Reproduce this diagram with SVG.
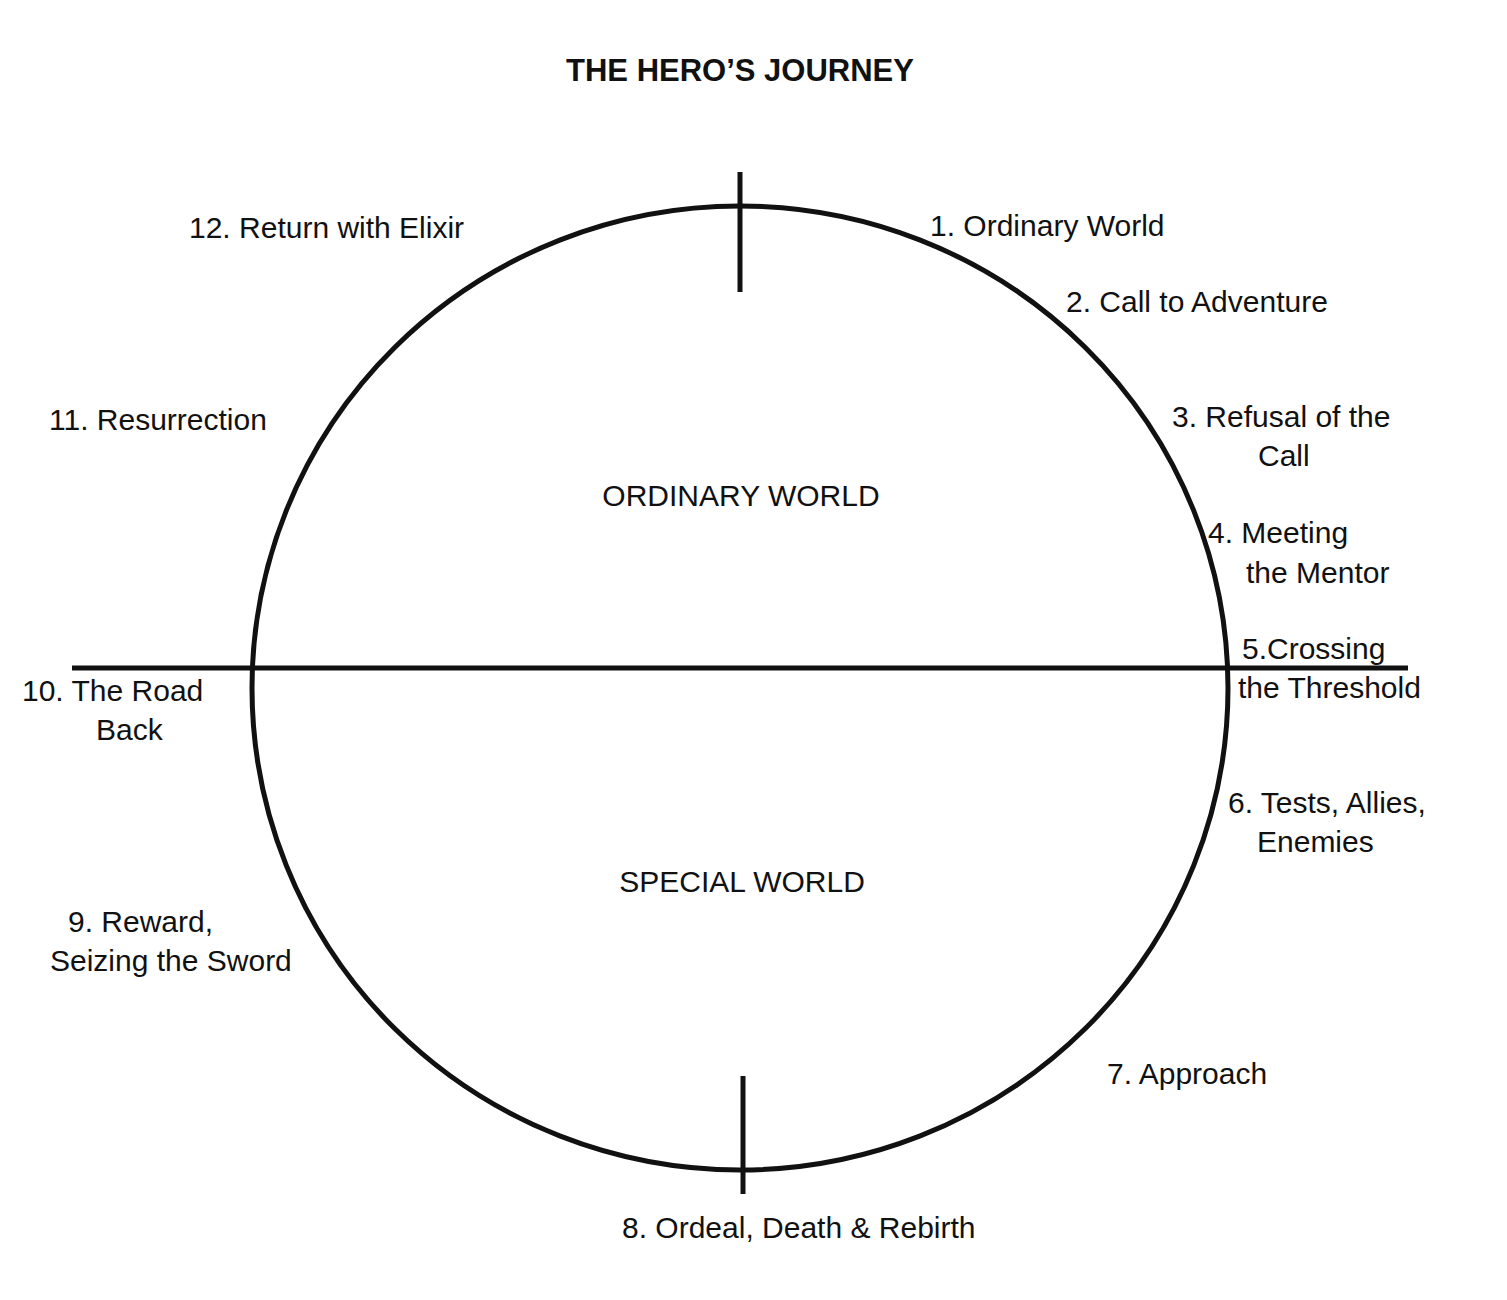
<svg xmlns="http://www.w3.org/2000/svg" width="1507" height="1300" viewBox="0 0 1507 1300">
<style>
text{font-family:"Liberation Sans",Arial,sans-serif;font-size:30px;fill:#111}
.t{font-weight:bold;font-size:31px}
.l{stroke:#111;stroke-width:5;fill:none}
</style>
<rect width="1507" height="1300" fill="#fff"/>
<g id="connectors">
<ellipse class="l" cx="740" cy="688" rx="488" ry="482"/>
<line class="l" x1="72" y1="668" x2="1408" y2="668"/>
<line class="l" x1="740" y1="172" x2="740" y2="292"/>
<line class="l" x1="743" y1="1076" x2="743" y2="1194"/>
</g>
<g id="title"><text class="t" x="740" y="81" text-anchor="middle">THE HERO’S JOURNEY</text></g>
<g id="n1"><text x="930" y="236">1.  Ordinary World</text></g>
<g id="n2"><text x="1066" y="312">2. Call to Adventure</text></g>
<g id="n3"><text x="1172" y="427">3. Refusal of the</text><text x="1258" y="466">Call</text></g>
<g id="n4"><text x="1208" y="543">4. Meeting</text><text x="1246" y="583">the Mentor</text></g>
<g id="n5"><text x="1242" y="659">5.Crossing</text><text x="1238" y="698">the Threshold</text></g>
<g id="n6"><text x="1228" y="813">6. Tests, Allies,</text><text x="1257" y="852">Enemies</text></g>
<g id="n7"><text x="1107" y="1084">7. Approach</text></g>
<g id="n8"><text x="622" y="1238">8. Ordeal, Death &amp; Rebirth</text></g>
<g id="n9"><text x="68" y="932">9. Reward,</text><text x="50" y="971">Seizing the Sword</text></g>
<g id="n10"><text x="22" y="701">10. The Road</text><text x="96" y="740">Back</text></g>
<g id="n11"><text x="49" y="430">11. Resurrection</text></g>
<g id="n12"><text x="189" y="238">12. Return with Elixir</text></g>
<g id="ow"><text x="741" y="506" text-anchor="middle">ORDINARY WORLD</text></g>
<g id="sw"><text x="742" y="892" text-anchor="middle">SPECIAL WORLD</text></g>
</svg>
